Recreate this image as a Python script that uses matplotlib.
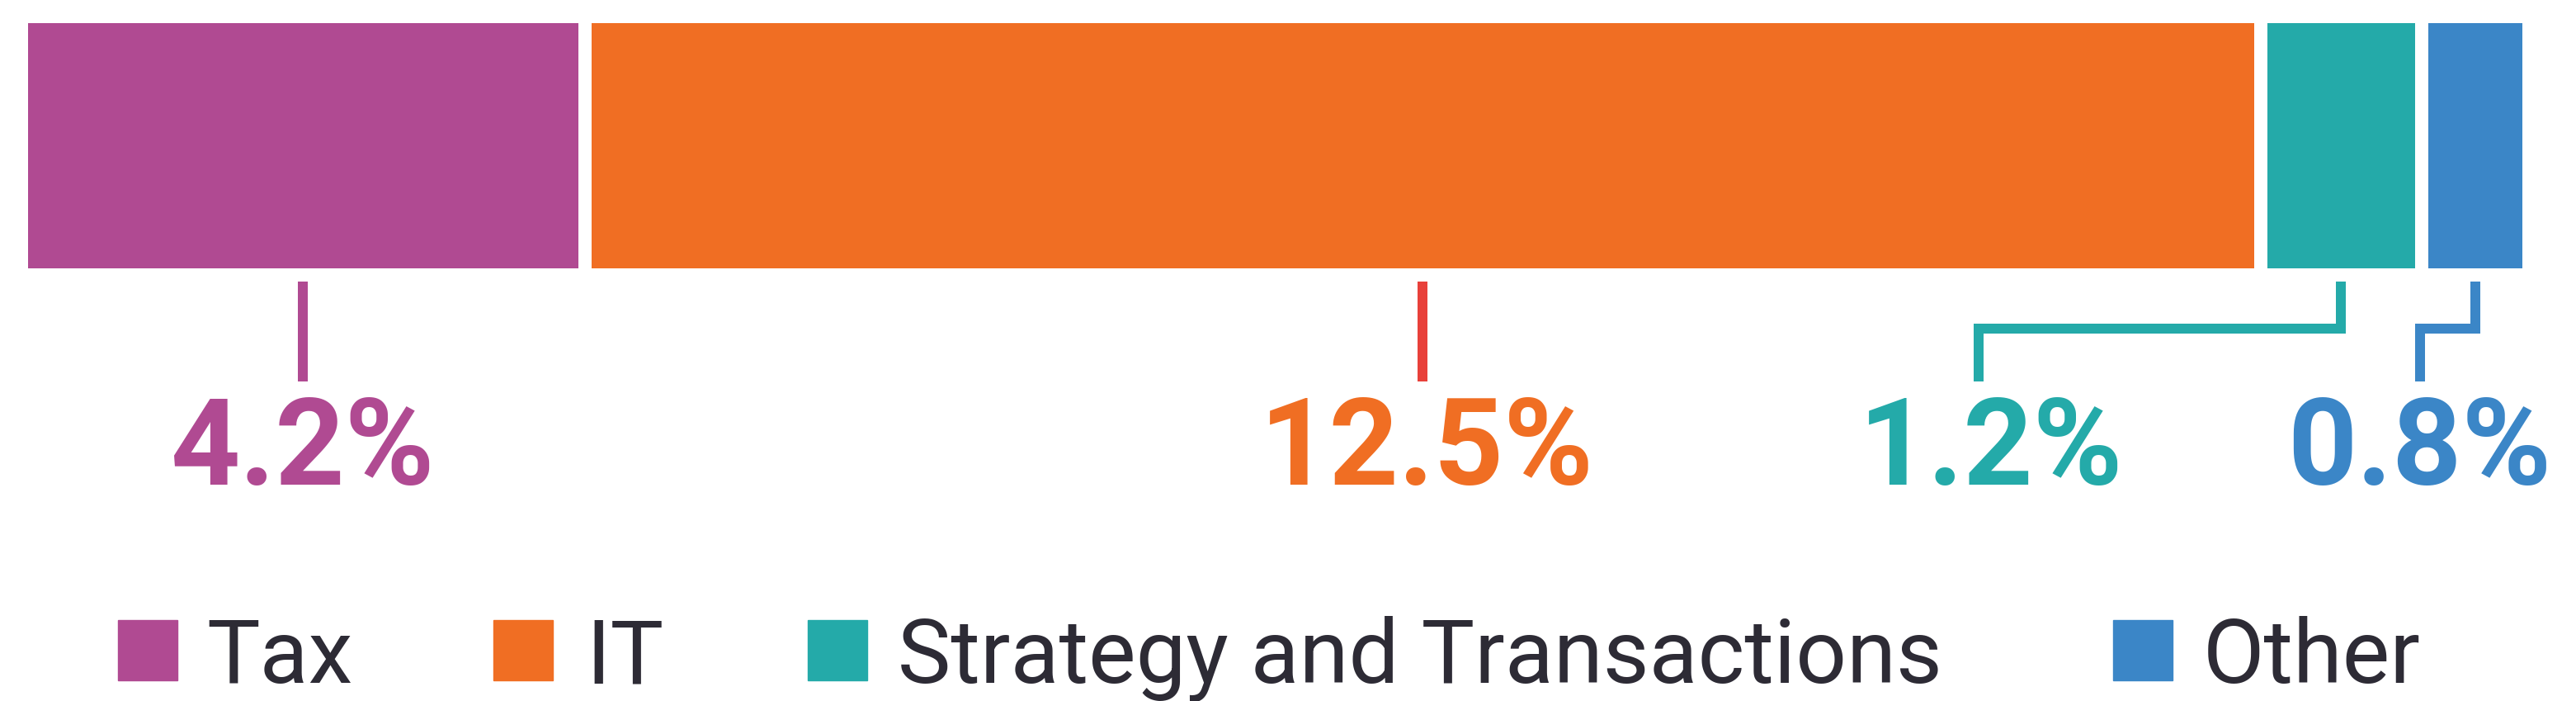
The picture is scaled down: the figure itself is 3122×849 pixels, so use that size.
import numpy as np
import matplotlib.pyplot as plt
from matplotlib.patches import Rectangle

# datos
categories = ['Tax', 'IT', 'Strategy and Transactions', 'Other']
values = [4.2, 12.5, 1.2, 0.8]
labels = ['4.2%', '12.5%', '1.2%', '0.8%']
colors = ['#b04a92', '#f06e23', '#24aaa9', '#3b86c7']
line_colors = ['#b04a92', '#e8403a', '#24aaa9', '#3b86c7']

W, H = 3122, 849
fig = plt.figure(figsize=(W / 100, H / 100), dpi=100)

# eje principal: x en unidades de datos, y en pixeles
ax = fig.add_axes([0, 0, 1, 1])
k = 3039 / sum(values)           # pixeles por unidad
x0 = 26
ax.set_xlim(-x0 / k, (W - x0) / k)
ax.set_ylim(H, 0)
ax.axis('off')

lefts = np.concatenate([[0], np.cumsum(values)[:-1]])
centers = lefts + np.array(values) / 2
gap_pt = 16 * 0.72
ax.barh(176.5, values, left=lefts, height=313, color=colors,
        edgecolor='white', linewidth=gap_pt)

# posicion x de cada etiqueta (los dos ultimos desplazados a la izquierda)
label_x = [centers[0], centers[1], (2398 - x0) / k, (2933 - x0) / k]
text_x = [centers[0], centers[1] + 5 / k, (2413 - x0) / k, (2932 - x0) / k]

lw = 12 * 0.72
y_top, y_mid, y_bot = 341, 398, 462
for cx, lx, tx, lab, c, lc in zip(centers, label_x, text_x, labels, colors, line_colors):
    if abs(cx - lx) < 1e-6:
        ax.plot([cx, cx], [y_top, y_bot], color=lc, lw=lw, solid_capstyle='butt')
    else:
        ax.plot([cx, cx, lx, lx], [y_top, y_mid, y_mid, y_bot], color=lc, lw=lw,
                solid_capstyle='butt', solid_joinstyle='miter')
    ax.text(tx, 587, lab, color=c, fontsize=106, fontweight='bold',
            family=['Roboto', 'DejaVu Sans'], ha='center', va='baseline')

# leyenda
lax = fig.add_axes([0, 0, 1, 1])
lax.set_xlim(0, W)
lax.set_ylim(H, 0)
lax.axis('off')
lax.patch.set_alpha(0)
sq_x = [143, 598, 979, 2561]
txt_x = [250, 710, 1088, 2670]
for sx, tx, c, name in zip(sq_x, txt_x, colors, categories):
    lax.add_patch(Rectangle((sx, 751), 72, 73, color=c))
    lax.text(tx, 827, name, color='#2d2b35', fontsize=78, fontweight='normal',
             family=['Liberation Sans Narrow', 'Roboto', 'DejaVu Sans'],
             ha='left', va='baseline')

fig.savefig('out.png', dpi=100)
